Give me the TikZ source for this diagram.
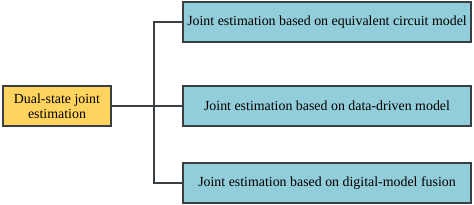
\documentclass[tikz,border=0pt]{standalone}
\usepackage{fontspec}
\setmainfont{Liberation Serif}
\definecolor{boxyellow}{HTML}{FFD45E}
\definecolor{boxblue}{HTML}{92CDDA}
\definecolor{edge}{HTML}{3A3F44}
\begin{document}
\begin{tikzpicture}[x=1pt,y=1pt,
  basebox/.style={draw=edge, line width=1.6pt, inner sep=2pt, font=\fontsize{13.9}{15.5}\selectfont, align=center},
  rootbox/.style={basebox, fill=boxyellow, minimum width=108pt, minimum height=40pt},
  leafbox/.style={basebox, fill=boxblue, minimum width=288pt, minimum height=40pt},
  link/.style={draw=edge, line width=1.3pt}]
\useasboundingbox (0,0) rectangle (474,-205);
\node[rootbox] (root) at (57,-106) {Dual-state joint\\estimation};
\node[leafbox] (a) at (327,-22) {Joint estimation based on equivalent circuit model};
\node[leafbox] (b) at (327,-106) {Joint estimation based on data-driven model};
\node[leafbox] (c) at (327,-183) {Joint estimation based on digital-model fusion};
\coordinate (j) at (154,-106);
\draw[link] (root.east) -- (b.west);
\draw[link] (a.west) -- (a.west -| j) -- (c.west -| j) -- (c.west);
\end{tikzpicture}
\end{document}
